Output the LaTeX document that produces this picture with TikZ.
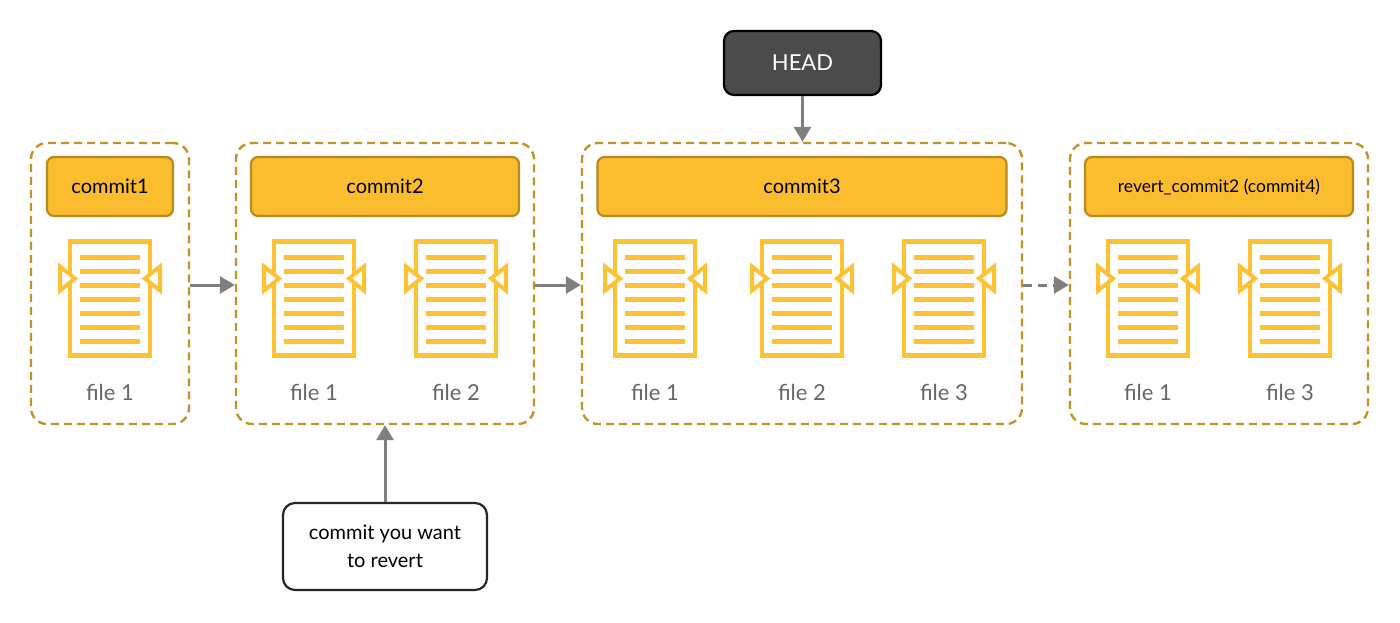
\documentclass[tikz,border=0pt]{standalone}
\usepackage{fontspec}
\setmainfont{Lato}
\usetikzlibrary{arrows.meta}
\definecolor{gold}{HTML}{FBBD2E}
\definecolor{goldb}{HTML}{B8891E}
\definecolor{dash}{HTML}{C39223}
\definecolor{icon}{HTML}{FDC133}
\definecolor{head}{HTML}{4B4B4B}
\definecolor{arr}{HTML}{7F7F7F}
\begin{document}
\begin{tikzpicture}[x=1pt,y=-1pt,
  box/.style={draw=dash,line width=2.4pt,dash pattern=on 8pt off 5pt,rounded corners=16pt},
  hdr/.style={draw=goldb,fill=gold,line width=2.2pt,rounded corners=7pt,font=\fontsize{20}{24}\selectfont},
  lbl/.style={text=black!60,font=\fontsize{22}{26}\selectfont},
  con/.style={draw=arr,line width=3pt,-{Triangle[length=15pt,width=17pt]}},
  file/.pic={
    \draw[icon,line width=4.5pt] (-40,-57) rectangle (40,57);
    \foreach \y in {-41,-27,-13,1,15,29,43} \draw[icon,line width=4.5pt] (-30,\y)--(30,\y);
    \draw[icon,line width=4pt,fill=white] (-50,-32)--(-35,-20)--(-50,-8)--cycle;
    \draw[icon,line width=4pt,fill=white] (50,-32)--(35,-20)--(50,-8)--cycle;
  }]
\useasboundingbox (0,0) rectangle (1400,623);
\node[box,minimum width=158,minimum height=281] (c1) at (110,283.5) {};
\node[box,minimum width=298,minimum height=281] (c2) at (385,283.5) {};
\node[box,minimum width=440,minimum height=281] (c3) at (802,283.5) {};
\node[box,minimum width=298,minimum height=281] (c4) at (1219,283.5) {};
\node[hdr,minimum width=126,minimum height=59] (h1) at (110,186.5) {commit1};
\node[hdr,minimum width=268,minimum height=59] (h2) at (385,186.5) {commit2};
\node[hdr,minimum width=409,minimum height=59] (h3) at (802,186.5) {commit3};
\node[hdr,minimum width=268,minimum height=59,font=\fontsize{17.5}{20}\selectfont] (h4) at (1219,186.5) {revert\_commit2 (commit4)};
\foreach \x/\t [count=\i] in {110/file 1,314/file 1,456/file 2,655/file 1,802/file 2,944/file 3,1148/file 1,1290/file 3}{
  \pic at (\x,298.5) {file};
  \node[lbl] (f\i) at (\x,392) {\t};
}
\node[draw=black,fill=head,line width=2.2pt,rounded corners=10pt,minimum width=157,minimum height=64,text=white,font=\fontsize{22}{26}\selectfont] (head) at (802.5,63) {HEAD};
\node[draw=black!85,line width=2.2pt,rounded corners=12pt,minimum width=204,minimum height=87,align=center,font=\fontsize{20}{28}\selectfont] (rev) at (385,546.5) {commit you want\\to revert};
\draw[con] (c1.east |- 0,285) -- (c2.west |- 0,285);
\draw[con] (c2.east |- 0,285) -- (c3.west |- 0,285);
\draw[con,dash pattern=on 9pt off 6pt] (c3.east |- 0,285) -- (c4.west |- 0,285);
\draw[con] (head) -- (c3.north -| head);
\draw[con] (rev) -- (c2.south);
\end{tikzpicture}
\end{document}
